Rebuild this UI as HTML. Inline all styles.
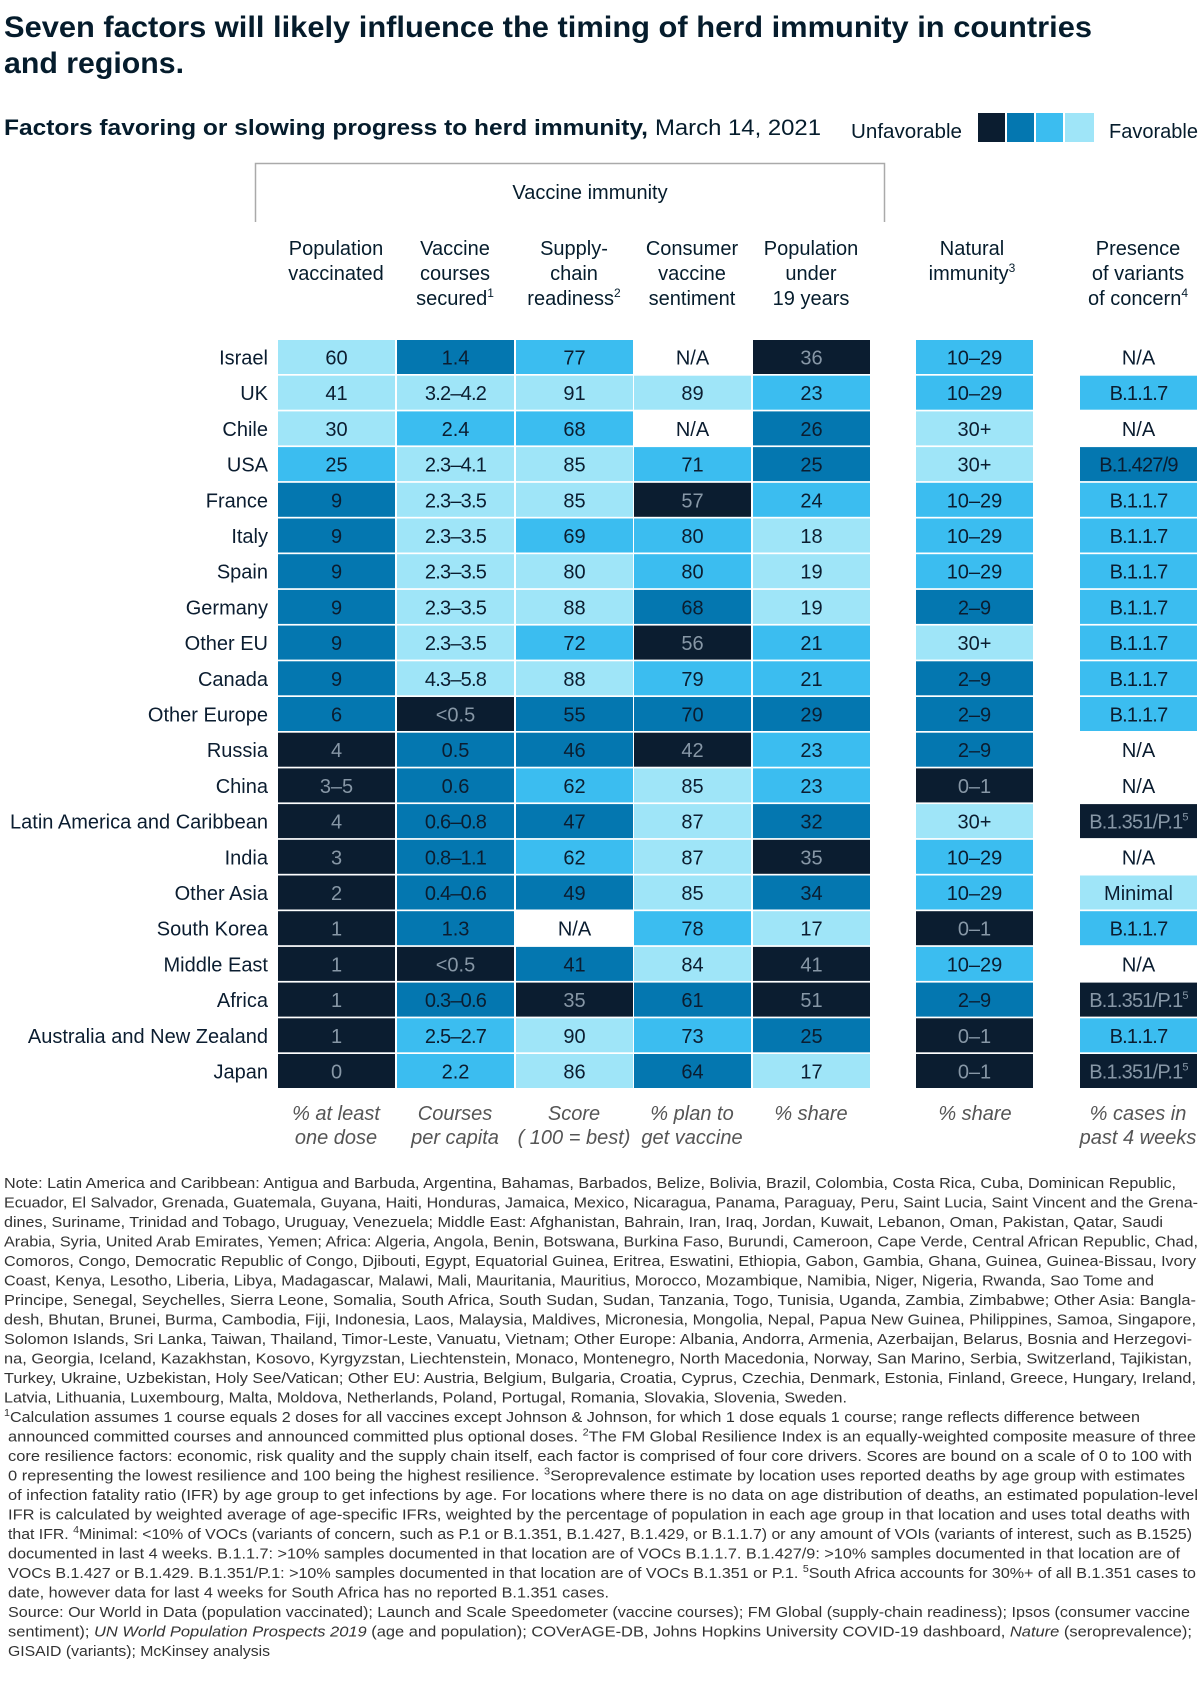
<!DOCTYPE html>
<html><head><meta charset="utf-8"><style>
html,body{margin:0;padding:0;background:#fff;}
svg{display:block;font-family:"Liberation Sans",sans-serif;}
.N{fill:#0b1d30}.D{fill:#0477b0}.M{fill:#3bbdf0}.L{fill:#9fe5f8}
.t text{font-size:20px;fill:#0b1d30;text-anchor:middle}
.t text.g{fill:#8797a6}
.t text.lab{text-anchor:end}
.t text.s{letter-spacing:-0.8px}
</style></head><body>
<svg width="1200" height="1681" viewBox="0 0 1200 1681" xmlns="http://www.w3.org/2000/svg">
<g fill="#051c2c" font-weight="bold" font-size="30">
<text x="4" y="37" textLength="1088" lengthAdjust="spacingAndGlyphs">Seven factors will likely influence the timing of herd immunity in countries</text>
<text x="4" y="73" textLength="180" lengthAdjust="spacingAndGlyphs">and regions.</text>
</g>
<text x="4" y="135" font-size="22" font-weight="bold" fill="#051c2c" textLength="644" lengthAdjust="spacingAndGlyphs">Factors favoring or slowing progress to herd immunity,</text>
<text x="655" y="135" font-size="22" fill="#051c2c" textLength="166" lengthAdjust="spacingAndGlyphs">March 14, 2021</text>
<text x="851" y="138" font-size="20" fill="#051c2c" textLength="111" lengthAdjust="spacingAndGlyphs">Unfavorable</text>
<rect x="978" y="113" width="27" height="29" fill="#0b1d30"/>
<rect x="1007" y="113" width="27" height="29" fill="#0477b0"/>
<rect x="1036" y="113" width="27" height="29" fill="#3bbdf0"/>
<rect x="1065" y="113" width="29" height="29" fill="#9fe5f8"/>
<text x="1109" y="138" font-size="20" fill="#051c2c" textLength="89" lengthAdjust="spacingAndGlyphs">Favorable</text>
<path d="M255.5 222 V163.5 H884.5 V222" fill="none" stroke="#aaa" stroke-width="1.5"/>
<text x="590" y="199" font-size="20" fill="#051c2c" text-anchor="middle">Vaccine immunity</text>
<g font-size="20" fill="#051c2c" text-anchor="middle">
<text x="336" y="255">Population</text><text x="336" y="280">vaccinated</text>
<text x="455" y="255">Vaccine</text><text x="455" y="280">courses</text><text x="455" y="305">secured<tspan font-size="12" dy="-8">1</tspan></text>
<text x="574" y="255">Supply-</text><text x="574" y="280">chain</text><text x="574" y="305">readiness<tspan font-size="12" dy="-8">2</tspan></text>
<text x="692" y="255">Consumer</text><text x="692" y="280">vaccine</text><text x="692" y="305">sentiment</text>
<text x="811" y="255">Population</text><text x="811" y="280">under</text><text x="811" y="305">19 years</text>
<text x="972" y="255">Natural</text><text x="972" y="280">immunity<tspan font-size="12" dy="-8">3</tspan></text>
<text x="1138" y="255">Presence</text><text x="1138" y="280">of variants</text><text x="1138" y="305">of concern<tspan font-size="12" dy="-8">4</tspan></text>
</g>

<g class="t">
<g transform="translate(0,340)"><text class="lab" x="268" y="24.5">Israel</text>
<rect class="L" x="278" width="117" height="34"/><text x="336.5" y="24.5">60</text>
<rect class="D" x="397" width="117" height="34"/><text x="455.5" y="24.5">1.4</text>
<rect class="M" x="516" width="117" height="34"/><text x="574.5" y="24.5">77</text>
<text x="692.5" y="24.5">N/A</text>
<rect class="N" x="753" width="117" height="34"/><text class="g" x="811.5" y="24.5">36</text>
<rect class="M" x="916" width="117" height="34"/><text x="974.5" y="24.5">10–29</text>
<text x="1138.5" y="24.5">N/A</text></g>

<g transform="translate(0,375.7)"><text class="lab" x="268" y="24.5">UK</text>
<rect class="L" x="278" width="117" height="34"/><text x="336.5" y="24.5">41</text>
<rect class="L" x="397" width="117" height="34"/><text class="s" x="455.5" y="24.5">3.2–4.2</text>
<rect class="L" x="516" width="117" height="34"/><text x="574.5" y="24.5">91</text>
<rect class="L" x="634" width="117" height="34"/><text x="692.5" y="24.5">89</text>
<rect class="M" x="753" width="117" height="34"/><text x="811.5" y="24.5">23</text>
<rect class="M" x="916" width="117" height="34"/><text x="974.5" y="24.5">10–29</text>
<rect class="M" x="1080" width="117" height="34"/><text class="s" x="1138.5" y="24.5">B.1.1.7</text></g>

<g transform="translate(0,411.4)"><text class="lab" x="268" y="24.5">Chile</text>
<rect class="L" x="278" width="117" height="34"/><text x="336.5" y="24.5">30</text>
<rect class="M" x="397" width="117" height="34"/><text x="455.5" y="24.5">2.4</text>
<rect class="M" x="516" width="117" height="34"/><text x="574.5" y="24.5">68</text>
<text x="692.5" y="24.5">N/A</text>
<rect class="D" x="753" width="117" height="34"/><text x="811.5" y="24.5">26</text>
<rect class="L" x="916" width="117" height="34"/><text x="974.5" y="24.5">30+</text>
<text x="1138.5" y="24.5">N/A</text></g>

<g transform="translate(0,447.1)"><text class="lab" x="268" y="24.5">USA</text>
<rect class="M" x="278" width="117" height="34"/><text x="336.5" y="24.5">25</text>
<rect class="L" x="397" width="117" height="34"/><text class="s" x="455.5" y="24.5">2.3–4.1</text>
<rect class="L" x="516" width="117" height="34"/><text x="574.5" y="24.5">85</text>
<rect class="M" x="634" width="117" height="34"/><text x="692.5" y="24.5">71</text>
<rect class="D" x="753" width="117" height="34"/><text x="811.5" y="24.5">25</text>
<rect class="L" x="916" width="117" height="34"/><text x="974.5" y="24.5">30+</text>
<rect class="D" x="1080" width="117" height="34"/><text class="s" x="1138.5" y="24.5">B.1.427/9</text></g>

<g transform="translate(0,482.8)"><text class="lab" x="268" y="24.5">France</text>
<rect class="D" x="278" width="117" height="34"/><text x="336.5" y="24.5">9</text>
<rect class="L" x="397" width="117" height="34"/><text class="s" x="455.5" y="24.5">2.3–3.5</text>
<rect class="L" x="516" width="117" height="34"/><text x="574.5" y="24.5">85</text>
<rect class="N" x="634" width="117" height="34"/><text class="g" x="692.5" y="24.5">57</text>
<rect class="M" x="753" width="117" height="34"/><text x="811.5" y="24.5">24</text>
<rect class="M" x="916" width="117" height="34"/><text x="974.5" y="24.5">10–29</text>
<rect class="M" x="1080" width="117" height="34"/><text class="s" x="1138.5" y="24.5">B.1.1.7</text></g>

<g transform="translate(0,518.5)"><text class="lab" x="268" y="24.5">Italy</text>
<rect class="D" x="278" width="117" height="34"/><text x="336.5" y="24.5">9</text>
<rect class="L" x="397" width="117" height="34"/><text class="s" x="455.5" y="24.5">2.3–3.5</text>
<rect class="M" x="516" width="117" height="34"/><text x="574.5" y="24.5">69</text>
<rect class="M" x="634" width="117" height="34"/><text x="692.5" y="24.5">80</text>
<rect class="L" x="753" width="117" height="34"/><text x="811.5" y="24.5">18</text>
<rect class="M" x="916" width="117" height="34"/><text x="974.5" y="24.5">10–29</text>
<rect class="M" x="1080" width="117" height="34"/><text class="s" x="1138.5" y="24.5">B.1.1.7</text></g>

<g transform="translate(0,554.2)"><text class="lab" x="268" y="24.5">Spain</text>
<rect class="D" x="278" width="117" height="34"/><text x="336.5" y="24.5">9</text>
<rect class="L" x="397" width="117" height="34"/><text class="s" x="455.5" y="24.5">2.3–3.5</text>
<rect class="L" x="516" width="117" height="34"/><text x="574.5" y="24.5">80</text>
<rect class="M" x="634" width="117" height="34"/><text x="692.5" y="24.5">80</text>
<rect class="L" x="753" width="117" height="34"/><text x="811.5" y="24.5">19</text>
<rect class="M" x="916" width="117" height="34"/><text x="974.5" y="24.5">10–29</text>
<rect class="M" x="1080" width="117" height="34"/><text class="s" x="1138.5" y="24.5">B.1.1.7</text></g>

<g transform="translate(0,589.9)"><text class="lab" x="268" y="24.5">Germany</text>
<rect class="D" x="278" width="117" height="34"/><text x="336.5" y="24.5">9</text>
<rect class="L" x="397" width="117" height="34"/><text class="s" x="455.5" y="24.5">2.3–3.5</text>
<rect class="L" x="516" width="117" height="34"/><text x="574.5" y="24.5">88</text>
<rect class="D" x="634" width="117" height="34"/><text x="692.5" y="24.5">68</text>
<rect class="L" x="753" width="117" height="34"/><text x="811.5" y="24.5">19</text>
<rect class="D" x="916" width="117" height="34"/><text x="974.5" y="24.5">2–9</text>
<rect class="M" x="1080" width="117" height="34"/><text class="s" x="1138.5" y="24.5">B.1.1.7</text></g>

<g transform="translate(0,625.6)"><text class="lab" x="268" y="24.5">Other EU</text>
<rect class="D" x="278" width="117" height="34"/><text x="336.5" y="24.5">9</text>
<rect class="L" x="397" width="117" height="34"/><text class="s" x="455.5" y="24.5">2.3–3.5</text>
<rect class="M" x="516" width="117" height="34"/><text x="574.5" y="24.5">72</text>
<rect class="N" x="634" width="117" height="34"/><text class="g" x="692.5" y="24.5">56</text>
<rect class="M" x="753" width="117" height="34"/><text x="811.5" y="24.5">21</text>
<rect class="L" x="916" width="117" height="34"/><text x="974.5" y="24.5">30+</text>
<rect class="M" x="1080" width="117" height="34"/><text class="s" x="1138.5" y="24.5">B.1.1.7</text></g>

<g transform="translate(0,661.3)"><text class="lab" x="268" y="24.5">Canada</text>
<rect class="D" x="278" width="117" height="34"/><text x="336.5" y="24.5">9</text>
<rect class="L" x="397" width="117" height="34"/><text class="s" x="455.5" y="24.5">4.3–5.8</text>
<rect class="L" x="516" width="117" height="34"/><text x="574.5" y="24.5">88</text>
<rect class="M" x="634" width="117" height="34"/><text x="692.5" y="24.5">79</text>
<rect class="M" x="753" width="117" height="34"/><text x="811.5" y="24.5">21</text>
<rect class="D" x="916" width="117" height="34"/><text x="974.5" y="24.5">2–9</text>
<rect class="M" x="1080" width="117" height="34"/><text class="s" x="1138.5" y="24.5">B.1.1.7</text></g>

<g transform="translate(0,697)"><text class="lab" x="268" y="24.5">Other Europe</text>
<rect class="D" x="278" width="117" height="34"/><text x="336.5" y="24.5">6</text>
<rect class="N" x="397" width="117" height="34"/><text class="g" x="455.5" y="24.5">&lt;0.5</text>
<rect class="D" x="516" width="117" height="34"/><text x="574.5" y="24.5">55</text>
<rect class="D" x="634" width="117" height="34"/><text x="692.5" y="24.5">70</text>
<rect class="D" x="753" width="117" height="34"/><text x="811.5" y="24.5">29</text>
<rect class="D" x="916" width="117" height="34"/><text x="974.5" y="24.5">2–9</text>
<rect class="M" x="1080" width="117" height="34"/><text class="s" x="1138.5" y="24.5">B.1.1.7</text></g>

<g transform="translate(0,732.7)"><text class="lab" x="268" y="24.5">Russia</text>
<rect class="N" x="278" width="117" height="34"/><text class="g" x="336.5" y="24.5">4</text>
<rect class="D" x="397" width="117" height="34"/><text x="455.5" y="24.5">0.5</text>
<rect class="D" x="516" width="117" height="34"/><text x="574.5" y="24.5">46</text>
<rect class="N" x="634" width="117" height="34"/><text class="g" x="692.5" y="24.5">42</text>
<rect class="M" x="753" width="117" height="34"/><text x="811.5" y="24.5">23</text>
<rect class="D" x="916" width="117" height="34"/><text x="974.5" y="24.5">2–9</text>
<text x="1138.5" y="24.5">N/A</text></g>

<g transform="translate(0,768.4)"><text class="lab" x="268" y="24.5">China</text>
<rect class="N" x="278" width="117" height="34"/><text class="g" x="336.5" y="24.5">3–5</text>
<rect class="D" x="397" width="117" height="34"/><text x="455.5" y="24.5">0.6</text>
<rect class="M" x="516" width="117" height="34"/><text x="574.5" y="24.5">62</text>
<rect class="L" x="634" width="117" height="34"/><text x="692.5" y="24.5">85</text>
<rect class="M" x="753" width="117" height="34"/><text x="811.5" y="24.5">23</text>
<rect class="N" x="916" width="117" height="34"/><text class="g" x="974.5" y="24.5">0–1</text>
<text x="1138.5" y="24.5">N/A</text></g>

<g transform="translate(0,804.1)"><text class="lab" x="268" y="24.5">Latin America and Caribbean</text>
<rect class="N" x="278" width="117" height="34"/><text class="g" x="336.5" y="24.5">4</text>
<rect class="D" x="397" width="117" height="34"/><text class="s" x="455.5" y="24.5">0.6–0.8</text>
<rect class="D" x="516" width="117" height="34"/><text x="574.5" y="24.5">47</text>
<rect class="L" x="634" width="117" height="34"/><text x="692.5" y="24.5">87</text>
<rect class="D" x="753" width="117" height="34"/><text x="811.5" y="24.5">32</text>
<rect class="L" x="916" width="117" height="34"/><text x="974.5" y="24.5">30+</text>
<rect class="N" x="1080" width="117" height="34"/><text class="g s" x="1138.5" y="24.5">B.1.351/P.1<tspan font-size="11" dy="-8">5</tspan></text></g>

<g transform="translate(0,839.8)"><text class="lab" x="268" y="24.5">India</text>
<rect class="N" x="278" width="117" height="34"/><text class="g" x="336.5" y="24.5">3</text>
<rect class="D" x="397" width="117" height="34"/><text class="s" x="455.5" y="24.5">0.8–1.1</text>
<rect class="M" x="516" width="117" height="34"/><text x="574.5" y="24.5">62</text>
<rect class="L" x="634" width="117" height="34"/><text x="692.5" y="24.5">87</text>
<rect class="N" x="753" width="117" height="34"/><text class="g" x="811.5" y="24.5">35</text>
<rect class="M" x="916" width="117" height="34"/><text x="974.5" y="24.5">10–29</text>
<text x="1138.5" y="24.5">N/A</text></g>

<g transform="translate(0,875.5)"><text class="lab" x="268" y="24.5">Other Asia</text>
<rect class="N" x="278" width="117" height="34"/><text class="g" x="336.5" y="24.5">2</text>
<rect class="D" x="397" width="117" height="34"/><text class="s" x="455.5" y="24.5">0.4–0.6</text>
<rect class="D" x="516" width="117" height="34"/><text x="574.5" y="24.5">49</text>
<rect class="L" x="634" width="117" height="34"/><text x="692.5" y="24.5">85</text>
<rect class="D" x="753" width="117" height="34"/><text x="811.5" y="24.5">34</text>
<rect class="M" x="916" width="117" height="34"/><text x="974.5" y="24.5">10–29</text>
<rect class="L" x="1080" width="117" height="34"/><text x="1138.5" y="24.5">Minimal</text></g>

<g transform="translate(0,911.2)"><text class="lab" x="268" y="24.5">South Korea</text>
<rect class="N" x="278" width="117" height="34"/><text class="g" x="336.5" y="24.5">1</text>
<rect class="D" x="397" width="117" height="34"/><text x="455.5" y="24.5">1.3</text>
<text x="574.5" y="24.5">N/A</text>
<rect class="M" x="634" width="117" height="34"/><text x="692.5" y="24.5">78</text>
<rect class="L" x="753" width="117" height="34"/><text x="811.5" y="24.5">17</text>
<rect class="N" x="916" width="117" height="34"/><text class="g" x="974.5" y="24.5">0–1</text>
<rect class="M" x="1080" width="117" height="34"/><text class="s" x="1138.5" y="24.5">B.1.1.7</text></g>

<g transform="translate(0,946.9)"><text class="lab" x="268" y="24.5">Middle East</text>
<rect class="N" x="278" width="117" height="34"/><text class="g" x="336.5" y="24.5">1</text>
<rect class="N" x="397" width="117" height="34"/><text class="g" x="455.5" y="24.5">&lt;0.5</text>
<rect class="D" x="516" width="117" height="34"/><text x="574.5" y="24.5">41</text>
<rect class="L" x="634" width="117" height="34"/><text x="692.5" y="24.5">84</text>
<rect class="N" x="753" width="117" height="34"/><text class="g" x="811.5" y="24.5">41</text>
<rect class="M" x="916" width="117" height="34"/><text x="974.5" y="24.5">10–29</text>
<text x="1138.5" y="24.5">N/A</text></g>

<g transform="translate(0,982.6)"><text class="lab" x="268" y="24.5">Africa</text>
<rect class="N" x="278" width="117" height="34"/><text class="g" x="336.5" y="24.5">1</text>
<rect class="D" x="397" width="117" height="34"/><text class="s" x="455.5" y="24.5">0.3–0.6</text>
<rect class="N" x="516" width="117" height="34"/><text class="g" x="574.5" y="24.5">35</text>
<rect class="D" x="634" width="117" height="34"/><text x="692.5" y="24.5">61</text>
<rect class="N" x="753" width="117" height="34"/><text class="g" x="811.5" y="24.5">51</text>
<rect class="D" x="916" width="117" height="34"/><text x="974.5" y="24.5">2–9</text>
<rect class="N" x="1080" width="117" height="34"/><text class="g s" x="1138.5" y="24.5">B.1.351/P.1<tspan font-size="11" dy="-8">5</tspan></text></g>

<g transform="translate(0,1018.3)"><text class="lab" x="268" y="24.5">Australia and New Zealand</text>
<rect class="N" x="278" width="117" height="34"/><text class="g" x="336.5" y="24.5">1</text>
<rect class="M" x="397" width="117" height="34"/><text class="s" x="455.5" y="24.5">2.5–2.7</text>
<rect class="L" x="516" width="117" height="34"/><text x="574.5" y="24.5">90</text>
<rect class="M" x="634" width="117" height="34"/><text x="692.5" y="24.5">73</text>
<rect class="D" x="753" width="117" height="34"/><text x="811.5" y="24.5">25</text>
<rect class="N" x="916" width="117" height="34"/><text class="g" x="974.5" y="24.5">0–1</text>
<rect class="M" x="1080" width="117" height="34"/><text class="s" x="1138.5" y="24.5">B.1.1.7</text></g>

<g transform="translate(0,1054)"><text class="lab" x="268" y="24.5">Japan</text>
<rect class="N" x="278" width="117" height="34"/><text class="g" x="336.5" y="24.5">0</text>
<rect class="M" x="397" width="117" height="34"/><text x="455.5" y="24.5">2.2</text>
<rect class="L" x="516" width="117" height="34"/><text x="574.5" y="24.5">86</text>
<rect class="D" x="634" width="117" height="34"/><text x="692.5" y="24.5">64</text>
<rect class="L" x="753" width="117" height="34"/><text x="811.5" y="24.5">17</text>
<rect class="N" x="916" width="117" height="34"/><text class="g" x="974.5" y="24.5">0–1</text>
<rect class="N" x="1080" width="117" height="34"/><text class="g s" x="1138.5" y="24.5">B.1.351/P.1<tspan font-size="11" dy="-8">5</tspan></text></g>
</g>

<g font-size="20" fill="#555" font-style="italic" text-anchor="middle">
<text x="336" y="1120">% at least</text><text x="336" y="1144">one dose</text>
<text x="455" y="1120">Courses</text><text x="455" y="1144">per capita</text>
<text x="574" y="1120">Score</text><text x="574" y="1144">( 100 = best)</text>
<text x="692" y="1120">% plan to</text><text x="692" y="1144">get vaccine</text>
<text x="811" y="1120">% share</text>
<text x="975" y="1120">% share</text>
<text x="1138" y="1120">% cases in</text><text x="1138" y="1144">past 4 weeks</text>
</g>
<g font-size="15" fill="#333">
<text x="4" y="1188" textLength="1172" lengthAdjust="spacingAndGlyphs">Note: Latin America and Caribbean: Antigua and Barbuda, Argentina, Bahamas, Barbados, Belize, Bolivia, Brazil, Colombia, Costa Rica, Cuba, Dominican Republic,</text>
<text x="4" y="1207.5" textLength="1194" lengthAdjust="spacingAndGlyphs">Ecuador, El Salvador, Grenada, Guatemala, Guyana, Haiti, Honduras, Jamaica, Mexico, Nicaragua, Panama, Paraguay, Peru, Saint Lucia, Saint Vincent and the Grena-</text>
<text x="4" y="1227" textLength="1159" lengthAdjust="spacingAndGlyphs">dines, Suriname, Trinidad and Tobago, Uruguay, Venezuela; Middle East: Afghanistan, Bahrain, Iran, Iraq, Jordan, Kuwait, Lebanon, Oman, Pakistan, Qatar, Saudi</text>
<text x="4" y="1246.5" textLength="1194" lengthAdjust="spacingAndGlyphs">Arabia, Syria, United Arab Emirates, Yemen; Africa: Algeria, Angola, Benin, Botswana, Burkina Faso, Burundi, Cameroon, Cape Verde, Central African Republic, Chad,</text>
<text x="4" y="1266" textLength="1192" lengthAdjust="spacingAndGlyphs">Comoros, Congo, Democratic Republic of Congo, Djibouti, Egypt, Equatorial Guinea, Eritrea, Eswatini, Ethiopia, Gabon, Gambia, Ghana, Guinea, Guinea-Bissau, Ivory</text>
<text x="4" y="1285.5" textLength="1150" lengthAdjust="spacingAndGlyphs">Coast, Kenya, Lesotho, Liberia, Libya, Madagascar, Malawi, Mali, Mauritania, Mauritius, Morocco, Mozambique, Namibia, Niger, Nigeria, Rwanda, Sao Tome and</text>
<text x="4" y="1305" textLength="1192" lengthAdjust="spacingAndGlyphs">Principe, Senegal, Seychelles, Sierra Leone, Somalia, South Africa, South Sudan, Sudan, Tanzania, Togo, Tunisia, Uganda, Zambia, Zimbabwe; Other Asia: Bangla-</text>
<text x="4" y="1324.5" textLength="1192" lengthAdjust="spacingAndGlyphs">desh, Bhutan, Brunei, Burma, Cambodia, Fiji, Indonesia, Laos, Malaysia, Maldives, Micronesia, Mongolia, Nepal, Papua New Guinea, Philippines, Samoa, Singapore,</text>
<text x="4" y="1344" textLength="1188" lengthAdjust="spacingAndGlyphs">Solomon Islands, Sri Lanka, Taiwan, Thailand, Timor-Leste, Vanuatu, Vietnam; Other Europe: Albania, Andorra, Armenia, Azerbaijan, Belarus, Bosnia and Herzegovi-</text>
<text x="4" y="1363.5" textLength="1188" lengthAdjust="spacingAndGlyphs">na, Georgia, Iceland, Kazakhstan, Kosovo, Kyrgyzstan, Liechtenstein, Monaco, Montenegro, North Macedonia, Norway, San Marino, Serbia, Switzerland, Tajikistan,</text>
<text x="4" y="1383" textLength="1192" lengthAdjust="spacingAndGlyphs">Turkey, Ukraine, Uzbekistan, Holy See/Vatican; Other EU: Austria, Belgium, Bulgaria, Croatia, Cyprus, Czechia, Denmark, Estonia, Finland, Greece, Hungary, Ireland,</text>
<text x="4" y="1402.5" textLength="843" lengthAdjust="spacingAndGlyphs">Latvia, Lithuania, Luxembourg, Malta, Moldova, Netherlands, Poland, Portugal, Romania, Slovakia, Slovenia, Sweden.</text>
<text x="4" y="1422" textLength="1136" lengthAdjust="spacingAndGlyphs"><tspan font-size="10" dy="-6">1</tspan><tspan dy="6">Calculation assumes 1 course equals 2 doses for all vaccines except Johnson &amp; Johnson, for which 1 dose equals 1 course; range reflects difference between</tspan></text>
<text x="8" y="1441.5" textLength="1188" lengthAdjust="spacingAndGlyphs">announced committed courses and announced committed plus optional doses. <tspan font-size="10" dy="-6">2</tspan><tspan dy="6">The FM Global Resilience Index is an equally-weighted composite measure of three</tspan></text>
<text x="8" y="1461" textLength="1184" lengthAdjust="spacingAndGlyphs">core resilience factors: economic, risk quality and the supply chain itself, each factor is comprised of four core drivers. Scores are bound on a scale of 0 to 100 with</text>
<text x="8" y="1480.5" textLength="1177" lengthAdjust="spacingAndGlyphs">0 representing the lowest resilience and 100 being the highest resilience. <tspan font-size="10" dy="-6">3</tspan><tspan dy="6">Seroprevalence estimate by location uses reported deaths by age group with estimates</tspan></text>
<text x="8" y="1500" textLength="1190" lengthAdjust="spacingAndGlyphs">of infection fatality ratio (IFR) by age group to get infections by age. For locations where there is no data on age distribution of deaths, an estimated population-level</text>
<text x="8" y="1519.5" textLength="1182" lengthAdjust="spacingAndGlyphs">IFR is calculated by weighted average of age-specific IFRs, weighted by the percentage of population in each age group in that location and uses total deaths with</text>
<text x="8" y="1539" textLength="1184" lengthAdjust="spacingAndGlyphs">that IFR. <tspan font-size="10" dy="-6">4</tspan><tspan dy="6">Minimal: &lt;10% of VOCs (variants of concern, such as P.1 or B.1.351, B.1.427, B.1.429, or B.1.1.7) or any amount of VOIs (variants of interest, such as B.1525)</tspan></text>
<text x="8" y="1558.5" textLength="1172" lengthAdjust="spacingAndGlyphs">documented in last 4 weeks. B.1.1.7:  &gt;10% samples documented in that location are of VOCs B.1.1.7. B.1.427/9:  &gt;10% samples documented in that location are of</text>
<text x="8" y="1578" textLength="1188" lengthAdjust="spacingAndGlyphs">VOCs B.1.427 or B.1.429. B.1.351/P.1:  &gt;10% samples documented in that location are of VOCs B.1.351 or P.1. <tspan font-size="10" dy="-6">5</tspan><tspan dy="6">South Africa accounts for 30%+ of all B.1.351 cases to</tspan></text>
<text x="8" y="1597.5" textLength="601" lengthAdjust="spacingAndGlyphs">date, however data for last 4 weeks for South Africa has no reported B.1.351 cases.</text>
<text x="8" y="1617" textLength="1182" lengthAdjust="spacingAndGlyphs">Source: Our World in Data (population vaccinated); Launch and Scale Speedometer (vaccine courses); FM Global (supply-chain readiness); Ipsos (consumer vaccine</text>
<text x="8" y="1636.5" textLength="1184" lengthAdjust="spacingAndGlyphs">sentiment); <tspan font-style="italic">UN World Population Prospects 2019</tspan> (age and population); COVerAGE-DB, Johns Hopkins University COVID-19 dashboard, <tspan font-style="italic">Nature</tspan> (seroprevalence);</text>
<text x="8" y="1656" textLength="262" lengthAdjust="spacingAndGlyphs">GISAID (variants); McKinsey analysis</text>
</g>
</svg>
</body></html>
